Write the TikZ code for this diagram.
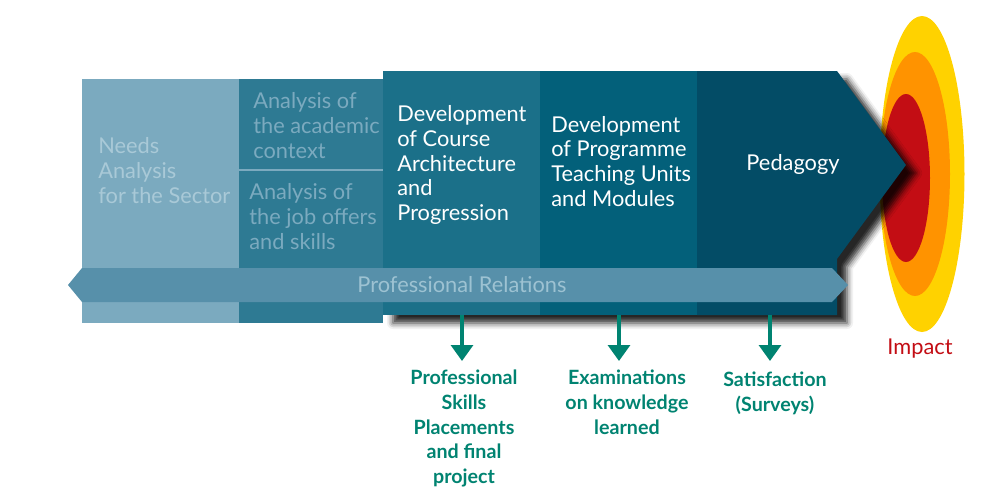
\documentclass[tikz,border=0pt]{standalone}
\usepackage{fontspec}
\setmainfont{Lato}
\usetikzlibrary{arrows.meta,shadows.blur}
\definecolor{needsblue}{HTML}{7BAABF}
\definecolor{needstext}{HTML}{A9C9D7}
\definecolor{jobblue}{HTML}{2E7A93}
\definecolor{courseblue}{HTML}{1B7089}
\definecolor{progblue}{HTML}{03607A}
\definecolor{pedablue}{HTML}{034C66}
\definecolor{relblue}{HTML}{5790AA}
\definecolor{reltext}{HTML}{9DC2D2}
\definecolor{resultgreen}{HTML}{008371}
\definecolor{impactred}{HTML}{C30D14}
\definecolor{impactorange}{HTML}{FF9300}
\definecolor{impactyellow}{HTML}{FFD200}

\begin{document}
\begin{tikzpicture}[x=0.2mm, y=-0.2mm,
  every node/.style={font=\fontsize{12.4}{14.2}\selectfont, inner sep=0pt},
  steptext/.style={align=left, anchor=west},
  resultlabel/.style={align=center, anchor=north, text=resultgreen, font=\fontsize{11.2}{14}\selectfont\bfseries},
  resultarrow/.style={resultgreen, line width=0.65mm, -{Triangle[width=4.4mm, length=3.2mm]}, shorten >=1.8mm}]
\useasboundingbox (0,0) rectangle (982,500);

% Impact rings
\fill[impactyellow] (922,174) ellipse [x radius=42.5, y radius=158];
\fill[impactorange] (915,174) ellipse [x radius=35, y radius=122];
\fill[impactred] (906,178) ellipse [x radius=24, y radius=84];
\node[text=impactred] (impact) at (920,349) {Impact};

% Analysis blocks
\fill[needsblue] (82,79) rectangle (239,323);
\fill[jobblue] (239,79) rectangle (383,323);
\draw[needsblue, line width=0.25mm] (239,170) -- (383,170);
\node[steptext, text=needstext] (needs) at (98,171) {Needs\\Analysis\\for the Sector};
\node[steptext, text=needsblue] (academic) at (253,126) {Analysis of\\the academic\\context};
\node[steptext, text=needsblue] (joboffers) at (249,217) {Analysis of\\the job offers\\and skills};

% Development blocks with shadow
\path[blur shadow={shadow xshift=2mm, shadow yshift=-1.6mm, shadow blur radius=1.2mm, shadow opacity=85}]
  (383,71) -- (837,71) -- (906,165) -- (837,259) -- (837,315) -- (383,315) -- cycle;
\fill[courseblue] (383,71) rectangle (540,315);
\fill[progblue] (540,71) rectangle (697,315);
\fill[pedablue] (697,71) -- (837,71) -- (906,165) -- (837,259) -- (837,315) -- (697,315) -- cycle;
\node[steptext, text=white] (course) at (397,165) {Development\\of Course\\Architecture\\and\\Progression};
\node[steptext, text=white] (programme) at (551,161.5) {Development\\of Programme\\Teaching Units\\and Modules};
\node[text=white] (pedagogy) at (793,164) {Pedagogy};

% Professional Relations
\fill[relblue] (68,285) -- (82,268) -- (832,268) -- (848,285) -- (832,302) -- (82,302) -- cycle;
\node[text=reltext] (relations) at (462,285) {Professional Relations};

% Results
\coordinate (courseout) at (462,315);
\coordinate (progout) at (619,315);
\coordinate (pedaout) at (770,315);
\node[resultlabel] (placements) at (464,370) {Professional\\Skills\\Placements\\and final\\project};
\node[resultlabel] (exams) at (627,370) {Examinations\\on knowledge\\learned};
\node[resultlabel] (surveys) at (775,372) {Satisfaction\\(Surveys)};
\draw[resultarrow] (courseout) -- (courseout |- placements.north);
\draw[resultarrow] (progout) -- (progout |- exams.north);
\draw[resultarrow, shorten >=2.2mm] (pedaout) -- (pedaout |- surveys.north);
\end{tikzpicture}
\end{document}
